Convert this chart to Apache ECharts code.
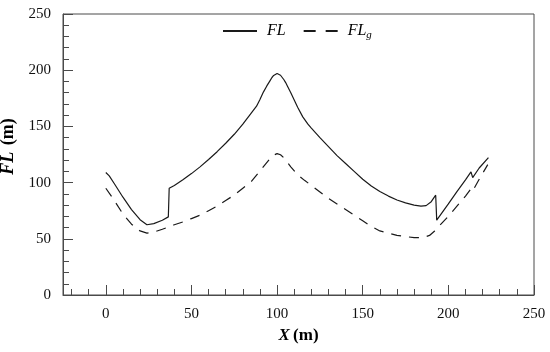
<!DOCTYPE html>
<html><head><meta charset="utf-8">
<script src="https://cdn.jsdelivr.net/npm/echarts@6/dist/echarts.min.js"></script>
<style>html,body{margin:0;padding:0;background:#fff}#c{width:550px;height:352px}</style>
</head><body><div id="c"></div>
<script>
const xTickLabels = [0, 50, 100, 150, 200, 250];
const xMinorTicks = [-20, -10, 0, 10, 20, 30, 40, 50, 60, 70, 80, 90, 100, 110, 120, 130, 140, 150, 160, 170, 180, 190, 200, 210, 220, 230, 240, 250];
const yTickLabels = [0, 50, 100, 150, 200, 250];
const seriesNames = ['FL', 'FLg'];

const flX = [0, 2, 5, 10, 15, 20, 24, 28, 33, 36.5, 37, 40, 45, 50, 55, 60, 65, 70, 75, 80, 85, 88, 90, 92, 94, 95, 96, 97, 98, 99, 100, 101, 102, 103, 104, 105, 106, 108, 110, 112, 115, 118, 120, 125, 130, 135, 140, 145, 150, 155, 160, 165, 170, 175, 180, 184, 187, 190, 192.6, 193.2, 200, 205, 210, 213.2, 214.2, 218, 223.4];
const flY = [109, 106, 99, 87, 76, 67, 62.5, 63.5, 66.5, 69.5, 95, 97.5, 102.5, 108, 114, 120.5, 127.5, 135, 143, 152, 162, 168, 174, 180.5, 186, 188.5, 191, 193.5, 195.3, 196.5, 197, 196.6, 195.5, 193.8, 191.5, 189, 186, 180, 173.5, 167, 158.5, 152, 148.5, 140, 132, 124, 117, 110, 103, 97, 92, 88, 84.5, 82, 80, 79, 79.5, 83, 88.8, 66.6, 81, 92, 102.5, 109.5, 104.5, 113, 122.3];

const flgX = [0, 5, 10, 15, 20, 24, 28, 33, 40, 45, 50, 55, 60, 65, 70, 75, 80, 85, 89, 93, 96, 98, 100, 102, 104, 106, 108, 112, 116, 120, 130, 140, 150, 155, 160, 170, 180, 185, 189, 192, 195, 200, 205, 210, 213, 214, 218, 223];
const flgY = [95, 84, 72, 63, 57, 55, 56, 58.5, 62.5, 65, 68, 71, 75, 79, 84, 89, 95, 101, 108.5, 116, 121.5, 124.5, 125.8, 124.8, 122, 118, 114, 107, 102, 97.5, 86, 76, 66, 61, 57, 53, 51, 51, 53, 57, 62, 70, 79, 88, 94, 92, 103, 116];

const zip = (xs, ys) => xs.map((x, i) => [x, ys[i]]);
const FONT = 'Liberation Serif';
const AX = '#4a4a4a';

const chart = echarts.init(document.getElementById('c'), null, {renderer: 'canvas'});
chart.setOption({
  animation: false,
  backgroundColor: '#fff',
  grid: {left: 63, right: 16, top: 14, bottom: 57, show: true, borderColor: AX, borderWidth: 1, backgroundColor: 'transparent', containLabel: false, outerBoundsMode: 'none'},
  legend: {
    top: 16, left: 217, itemWidth: 34, itemHeight: 12, itemGap: 17,
    data: [{name: seriesNames[0]}, {name: seriesNames[1], lineStyle: {type: [12, 10]}}],
    itemStyle: {opacity: 0},
    formatter: n => n === 'FLg' ? '{i|FL}{s|g}' : '{i|FL}',
    textStyle: {
      fontFamily: FONT, fontSize: 16, color: '#000',
      rich: {
        i: {fontFamily: FONT, fontSize: 16, fontStyle: 'italic', color: '#000', lineHeight: 18, padding: [0, 0, 0, 5]},
        s: {fontFamily: FONT, fontSize: 11, fontStyle: 'italic', color: '#000', lineHeight: 18, padding: [9, 0, 0, 0]}
      }
    }
  },
  xAxis: [{
    type: 'value', min: -25, max: 250, position: 'bottom',
    name: '{a|X} {b|(m)}', nameLocation: 'middle', nameGap: 27,
    nameTextStyle: {rich: {
      a: {fontFamily: FONT, fontSize: 17, fontStyle: 'italic', fontWeight: 'bold', color: '#000'},
      b: {fontFamily: FONT, fontSize: 17, fontWeight: 'bold', color: '#000'}
    }},
    axisLine: {show: true, onZero: false, lineStyle: {color: AX, width: 1}},
    axisTick: {show: true, inside: true, length: 10, customValues: xTickLabels, lineStyle: {color: AX}},
    axisLabel: {customValues: xTickLabels, margin: 12, fontFamily: FONT, fontSize: 15, color: '#111'},
    splitLine: {show: false}
  }, {
    type: 'value', min: -25, max: 250, position: 'bottom', gridIndex: 0,
    axisLine: {show: false},
    axisTick: {show: true, inside: true, length: 6, customValues: xMinorTicks, lineStyle: {color: AX}},
    axisLabel: {show: false},
    splitLine: {show: false}
  }],
  yAxis: {
    type: 'value', min: 0, max: 250, interval: 50,
    name: '{a|FL}  {b|(m)}', nameLocation: 'middle', nameGap: 39,
    nameTextStyle: {padding: [0, 0, 0, 16], rich: {
      a: {fontFamily: FONT, fontSize: 18, fontStyle: 'italic', fontWeight: 'bold', color: '#000'},
      b: {fontFamily: FONT, fontSize: 18, fontWeight: 'bold', color: '#000'}
    }},
    axisLine: {show: true, onZero: false, lineStyle: {color: AX, width: 1}},
    axisTick: {show: true, inside: true, length: 10, lineStyle: {color: AX}},
    minorTick: {show: true, splitNumber: 5, length: 6, lineStyle: {color: AX}},
    axisLabel: {margin: 12, fontFamily: FONT, fontSize: 15, color: '#111', formatter: v => yTickLabels.includes(v) ? String(v) : ''},
    splitLine: {show: false}
  },
  series: [{
    name: seriesNames[0], type: 'line', xAxisIndex: 0, data: zip(flX, flY), showSymbol: false, symbol: 'none',
    lineStyle: {color: '#1a1a1a', width: 1.2, type: 'solid'}, itemStyle: {color: '#1a1a1a'}
  }, {
    name: seriesNames[1], type: 'line', xAxisIndex: 0, data: zip(flgX, flgY), showSymbol: false, symbol: 'none',
    lineStyle: {color: '#1a1a1a', width: 1.2, type: [10, 8]}, itemStyle: {color: '#1a1a1a'}
  }]
});
</script>
</body></html>
